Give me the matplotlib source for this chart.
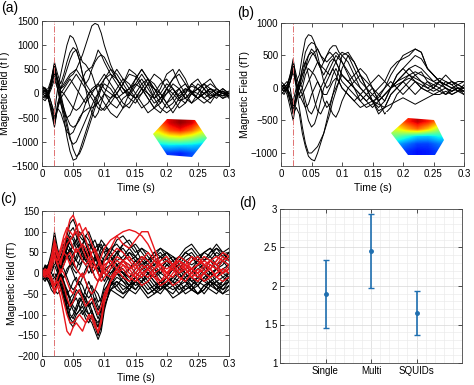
import numpy as np
import matplotlib
matplotlib.use('Agg')
import matplotlib.pyplot as plt
from matplotlib.patches import Polygon
from matplotlib.ticker import MultipleLocator

plt.rcParams['font.family'] = ['Liberation Sans', 'DejaVu Sans']
plt.rcParams['font.size'] = 7

# time base (s), finer around the stimulus/response
t = [0, .005, .01, .015, .02, .025, .03, .035, .04, .045, .05, .055, .06, .065, .07,
     .075, .08, .085, .09, .095, .1, .11, .12, .13, .14, .15, .16, .17, .18, .19, .2,
     .21, .22, .23, .24, .25, .26, .27, .28, .29, .3]
t_stim = 0.02

# (a) single sensor, fT
field_a = [
    [50, 80, 0, 200, 550, 300, 100, 150, 250, 350, 400, 500, 650, 800, 1000, 1200, 1400, 1450, 1420, 1250, 1000,
     600, 300, 100, -50, 150, 300, 100, -100, 0, 200, 100, -50, 50, 150, 100, 0, 50, -50, 0, -50],
    [100, 120, 0, -200, -400, 100, 400, 700, 1000, 1200, 1150, 1000, 800, 650, 600, 500, 550, 700, 900, 800, 650,
     400, 200, 0, 100, 300, 500, 300, 0, -200, 100, 300, 500, 300, 0, 100, 200, 0, -100, 50, -50],
    [0, -50, -100, 300, 650, 400, 200, 400, 650, 850, 950, 900, 700, 400, 200, 100, 0, -100, -200, -300, -350,
     -200, 0, 200, 400, 350, 100, -100, -300, -200, 0, 200, 100, -100, 0, 200, 100, -50, 0, 50, -100],
    [150, 100, -100, -300, -600, -300, 100, 300, 500, 700, 850, 900, 700, 400, 100, -200, -400, -500, -400, -200, 0,
     300, 500, 300, 100, -100, 0, 200, 400, 300, 100, -100, -300, -200, 0, 100, 200, 100, 0, -50, 0],
    [0, 50, 0, 200, 500, 300, 100, 200, 300, 400, 450, 500, 400, 300, 200, 300, 500, 650, 750, 800, 750,
     500, 300, 100, 0, -100, 100, 300, 200, 0, -200, -100, 100, 200, 0, -100, 100, 200, 100, 0, -50],
    [-50, -100, 0, 150, 400, 100, -200, -500, -900, -1200, -1380, -1350, -1200, -1000, -800, -600, -400, -200, 0, 200, 300,
     400, 300, 100, -100, -200, 0, 200, 100, -100, -300, -200, 0, 100, 50, -100, 0, 100, 0, -50, 0],
    [100, 50, -100, -300, -600, -200, 0, -300, -600, -900, -1150, -1300, -1250, -1100, -900, -700, -500, -300, -100, 100, 300,
     500, 400, 200, 0, -100, -300, -200, 0, 200, 300, 100, -100, 0, 200, 100, -100, -200, 0, 100, 0],
    [0, 80, 100, 300, 600, 200, -100, -400, -700, -950, -1050, -1000, -850, -700, -550, -400, -250, -100, 0, 100, 200,
     100, -100, -300, -200, 0, 200, 300, 100, -100, 0, 100, -100, -200, 0, 100, 0, -100, 0, 50, 0],
    [-100, -50, 0, -200, -500, -300, -400, -600, -800, -850, -800, -650, -500, -400, -350, -300, -300, -250, -200, -100, 0,
     -200, -300, -100, 0, 200, 400, 200, -100, -300, -400, -300, -100, 100, 0, -100, 0, 100, 50, 0, 0],
    [50, 0, -100, -400, -700, -300, -100, -300, -500, -650, -700, -650, -550, -400, -200, 0, 100, 150, 200, 300, 400,
     200, 0, -200, -300, -100, 100, 0, -200, -100, 100, 0, -150, -100, 50, 0, -100, 0, 100, 0, -50],
    [100, 100, 0, 250, 600, 200, 0, 100, 200, 300, 200, 100, 0, -100, -200, -100, 0, 100, 200, 100, 0,
     -100, 0, 200, 500, 400, 200, 0, -100, 100, 400, 500, 200, 0, -200, -100, 0, 100, 0, -100, -50],
    [-100, -150, -50, 100, 300, 100, -200, -400, -500, -450, -300, -100, 100, 300, 450, 500, 400, 200, 0, -100, -200,
     -400, -500, -300, 0, 300, 500, 300, 100, 0, -200, -400, -200, 0, 200, 300, 100, -100, 0, -100, 0],
    [0, -50, -100, -300, -650, -300, -100, 0, 100, 200, 300, 400, 300, 200, 100, 0, -100, -200, -300, -350, -300,
     -100, 100, 300, 200, 0, -200, -400, -300, -100, 100, 300, 400, 200, 0, -100, -200, -100, 0, 100, 0],
    [150, 100, 50, 200, 450, 250, 50, 0, -100, -200, -300, -350, -300, -200, -100, 0, 50, 100, 150, 200, 100,
     0, -100, 0, 100, 200, 100, -100, -300, -400, -200, 0, 100, -100, -200, 0, 200, 300, 100, 0, 50],
]

# (b) multi sensor, fT
field_b = [
    [0, 50, -50, 100, 300, 100, 200, 500, 750, 820, 800, 700, 500, 300, 100, 0, 50, 200, 300, 200, 100,
     0, -100, -200, -100, 0, -100, -200, 0, 100, 200, 300, 350, 300, 200, 100, 50, 0, -50, 0, -50],
    [-50, 0, 50, 200, 400, 200, 0, 300, 550, 650, 700, 680, 600, 500, 450, 400, 450, 500, 550, 500, 400,
     250, 100, 0, -100, -200, -150, 0, 200, 350, 500, 550, 600, 550, 300, 200, 100, 50, 100, 50, 0],
    [50, 0, -100, -300, -500, -200, 0, 100, 300, 500, 600, 550, 400, 300, 400, 500, 600, 650, 650, 550, 500,
     400, 200, 0, -100, -200, -300, -200, 0, 200, 300, 400, 500, 450, 300, 200, 100, 50, 0, 0, -50],
    [0, -50, 0, 100, 300, 0, -300, -600, -850, -1000, -1000, -950, -900, -800, -700, -500, -300, -100, 0, 100, 200,
     100, 0, -200, -300, -250, -100, 0, 100, 0, -100, 0, 100, 50, 0, -50, 0, -100, -50, 0, -100],
    [100, 50, 0, -200, -400, -300, -400, -700, -900, -1050, -1100, -1120, -1000, -850, -700, -550, -400, -200, -50, 100, 300,
     500, 400, 200, 0, -200, -350, -300, -100, 0, 100, 0, -100, 0, 100, 50, 0, 100, 50, -50, 0],
    [-100, -50, 0, 200, 450, 100, -100, -200, -300, -250, -100, 0, 100, 0, -200, -300, -250, -100, 100, 300, 500,
     550, 400, 200, 0, -200, -400, -300, -100, 0, 100, 200, 150, 100, 0, 50, 100, 50, 0, -50, 50],
    [0, 50, 100, 0, -300, -200, 100, 300, 400, 200, 0, -200, -350, -400, -300, -200, -300, -400, -450, -350, -200,
     0, 100, 200, 100, 0, -200, -100, 0, 200, 300, 200, 100, 0, -50, 0, 100, 0, -50, 0, 0],
    [50, 0, -50, -200, -400, -100, 100, 200, 300, 400, 500, 550, 600, 500, 400, 500, 550, 500, 400, 300, 200,
     100, 200, 300, 200, 0, -200, -400, -300, -100, 0, 100, 200, 250, 100, 0, 100, 200, 100, 0, -50],
    [-50, 0, 50, 150, 350, 100, -100, 0, 200, 300, 250, 200, 100, 0, -100, -100, 0, 100, 150, 100, 0,
     -100, -200, -100, 0, 100, 200, 100, 0, 100, 200, 300, 200, 100, 50, 0, -50, -100, 0, 50, 0],
    [0, -50, 0, -100, -300, -100, 0, 200, 400, 500, 550, 500, 400, 300, 200, 300, 400, 450, 400, 300, 200,
     100, 0, -100, -200, -100, 0, 100, 300, 400, 450, 500, 600, 550, 300, 200, 100, 50, 100, 50, 100],
    [0, 50, 0, -150, -350, -100, 0, -100, -300, -500, -600, -550, -400, -200, 0, 100, 200, 300, 200, 100, 0,
     -100, -200, -300, -250, -200, -250, -300, -250, -200, -150, -200, -250, -200, -150, -100, -100, -50, -100, -50, -100],
    [50, 0, -50, 100, 250, 50, -150, -100, 0, 100, 200, 300, 400, 350, 300, 250, 200, 300, 400, 500, 550,
     500, 300, 100, 0, -100, -200, -100, 0, 100, 150, 200, 250, 200, 150, 100, 150, 100, 50, 100, 100],
    [-50, -100, 0, -100, -200, 0, 100, 0, -200, -350, -400, -300, -150, 0, 100, 200, 300, 400, 500, 450, 400,
     200, 0, -100, -200, -300, -200, -100, 0, 50, 100, 150, 100, 0, -50, -100, -50, 0, -100, -50, -50],
]

# (c) SQUID channels (black) and highlighted channels (red), fT
field_c_black = [
    [0, 10, 5, 30, 90, 40, 20, 50, 80, 100, 110, 90, 70, 50, 60, 70, 60, 40, 20, 0, -20,
     10, 40, 70, 80, 60, 30, 10, 20, 40, 30, 10, 20, 40, 50, 30, 10, 30, 50, 40, 30],
    [-10, 0, -20, -40, -50, -20, 0, -30, -80, -110, -120, -100, -90, -80, -100, -110, -120, -140, -160, -140, -90,
     -30, 0, -10, -30, -20, 0, -20, -40, -30, -10, -20, -40, -30, -10, -30, -50, -30, -20, -40, -20],
    [5, 15, 10, 30, 60, 30, 10, 40, 60, 80, 90, 100, 80, 60, 50, 40, 50, 60, 70, 60, 50,
     60, 70, 50, 30, 40, 60, 50, 30, 40, 50, 40, 30, 50, 60, 40, 50, 60, 40, 50, 60],
    [0, -15, -10, 10, 40, 10, -20, -50, -80, -90, -70, -60, -80, -100, -90, -70, -90, -120, -130, -100, -50,
     -10, 20, 10, -10, -30, -20, 0, -20, -40, -30, -10, 0, -20, -30, -10, 0, -10, -30, -20, 0],
    [10, 0, 20, 40, 70, 50, 30, 60, 90, 120, 130, 110, 90, 80, 90, 100, 80, 60, 40, 30, 20,
     30, 50, 60, 40, 20, 0, 10, 30, 20, 0, 10, 30, 20, 0, 20, 40, 30, 10, 20, 40],
    [-5, 5, 0, -20, -40, -30, -10, -40, -70, -80, -60, -40, -50, -60, -40, -20, -40, -70, -90, -70, -40,
     -20, -40, -50, -30, -10, -30, -50, -40, -20, -40, -50, -30, -10, -30, -50, -40, -20, -30, -40, -30],
    [0, 20, 10, 0, 20, 30, 50, 70, 60, 50, 70, 80, 60, 40, 30, 50, 70, 80, 60, 40, 30,
     50, 80, 90, 70, 50, 60, 40, 20, 30, 50, 30, 10, 30, 40, 20, 30, 50, 60, 40, 50],
    [-10, -20, -5, 20, 50, 20, -10, -30, -50, -40, -20, -10, -30, -50, -60, -40, -30, -50, -70, -60, -30,
     0, 20, 0, -20, -40, -20, 0, 10, -10, -30, -20, 0, 10, -10, -20, 0, 20, 10, -10, 0],
    [0, 10, 0, 20, 50, 30, 10, 20, 40, 60, 50, 30, 20, 30, 50, 60, 40, 20, 0, 20, 40,
     60, 50, 30, 10, 20, 40, 30, 10, 0, 20, 30, 10, -10, 0, 20, 10, -10, 10, 30, 20],
    [5, -5, -10, -30, -40, -20, 0, -20, -60, -100, -110, -90, -70, -60, -80, -100, -90, -110, -130, -110, -70,
     -20, 10, 0, -20, -10, 10, 0, -20, -30, -10, 10, 0, -20, -10, 10, 0, -20, -10, 10, 0],
    [0, 15, 20, 40, 80, 50, 20, 40, 70, 90, 80, 60, 40, 30, 40, 50, 40, 20, 10, 20, 30,
     40, 20, 0, 10, 30, 20, 0, -10, 10, 30, 40, 20, 0, 10, 30, 20, 10, 30, 50, 30],
    [-15, -10, 0, 10, 20, 0, -20, -10, 10, 20, 0, -20, -30, -10, 10, 20, 10, -10, -20, -10, 10,
     20, 0, -20, -30, -10, 10, 20, 0, -20, -30, -10, 10, 0, -20, -30, -10, 0, -20, -30, -10],
    [10, 0, -10, -20, -30, -10, 10, 30, 50, 40, 20, 10, 30, 50, 40, 20, 0, 10, 30, 50, 60,
     40, 20, 0, -10, 10, 30, 20, 0, -20, -10, 10, 20, 0, -20, -10, 10, 30, 20, 0, 10],
    [0, -10, 0, 20, 40, 10, -30, -60, -90, -120, -130, -110, -100, -90, -110, -120, -100, -120, -150, -130, -80,
     -40, -20, -30, -40, -20, -10, -30, -50, -40, -20, -30, -50, -40, -30, -50, -40, -20, -30, -50, -40],
    [5, 10, 15, 30, 60, 40, 30, 60, 80, 70, 60, 80, 100, 90, 70, 50, 30, 20, 10, 0, 0,
     20, 50, 70, 60, 40, 20, 30, 50, 40, 20, 10, 30, 50, 40, 20, 30, 50, 70, 50, 30],
    [-5, 0, -10, -20, -20, 0, 20, 10, -10, -30, -40, -30, -10, 0, -20, -40, -60, -80, -100, -90, -60,
     -30, -10, -20, -40, -50, -30, -20, -40, -50, -30, -20, -30, -50, -40, -20, -30, -40, -50, -30, -20],
    [0, 5, 10, 20, 40, 20, 0, -10, 0, 20, 40, 60, 70, 50, 30, 20, 30, 40, 30, 10, 0,
     -20, -30, -10, 10, 30, 40, 20, 0, 10, 30, 20, 0, 10, 30, 40, 20, 0, 10, 30, 10],
    [10, 0, -5, -10, 0, -10, -30, -50, -70, -80, -70, -50, -40, -50, -70, -80, -70, -90, -110, -90, -60,
     -40, -50, -60, -40, -20, -40, -60, -50, -30, -40, -60, -50, -30, -40, -50, -30, -20, -40, -50, -30],
    [0, 10, 20, 50, 100, 60, 30, 50, 70, 60, 40, 30, 50, 70, 80, 60, 40, 30, 40, 60, 70,
     50, 30, 40, 60, 70, 50, 30, 40, 60, 50, 30, 40, 60, 70, 50, 30, 40, 60, 50, 40],
    [-5, -10, -20, -30, -40, -50, -40, -60, -90, -110, -100, -80, -60, -70, -90, -100, -110, -130, -150, -120, -80,
     -40, -30, -50, -40, -20, -30, -50, -40, -20, -30, -40, -30, -20, -40, -50, -30, -20, -40, -30, -20],
    [10, 5, 0, 10, 30, 20, 40, 60, 50, 30, 20, 40, 60, 70, 50, 30, 20, 40, 60, 70, 50,
     20, 10, 30, 50, 40, 20, 30, 50, 60, 40, 20, 30, 50, 40, 30, 50, 60, 40, 30, 50],
    [0, -5, 5, 0, -10, -20, -40, -30, -40, -60, -80, -90, -70, -50, -60, -80, -70, -60, -80, -90, -60,
     -30, -20, -40, -30, -10, -20, -40, -30, -20, -40, -30, -10, -20, -40, -30, -10, -30, -40, -20, -10],
    [-10, 0, 10, 20, 40, 30, 20, 30, 40, 30, 10, 0, 10, 30, 20, 0, 10, 30, 40, 30, 10,
     0, 10, 30, 20, 0, -10, 10, 20, 0, -10, 10, 30, 20, 0, 10, 20, 0, -10, 10, 20],
    [5, 0, -10, -20, -10, 0, -10, -30, -50, -60, -50, -30, -20, -30, -50, -60, -50, -40, -50, -70, -50,
     -20, 0, -10, -30, -40, -20, -10, -30, -40, -20, -10, -20, -40, -30, -10, -20, -30, -20, -10, -20],
    [0, 10, 5, 20, 60, 40, 20, 30, 60, 80, 90, 70, 60, 70, 90, 80, 60, 50, 60, 80, 70,
     40, 20, 30, 50, 30, 10, 20, 40, 50, 30, 20, 40, 30, 20, 30, 50, 40, 20, 30, 50],
    [-5, -10, 0, -10, -30, -10, 0, -20, -40, -70, -90, -100, -90, -70, -60, -80, -100, -110, -120, -100, -60,
     -10, 10, 0, -10, 0, 20, 10, -10, 0, 20, 10, -10, 0, 10, -10, -20, 0, 10, 0, -10],
]

field_c_red = [
    [0, 10, 0, 30, 70, 40, 20, 60, 100, 130, 140, 120, 90, 100, 110, 90, 70, 50, 30, 10, 0,
     20, 40, 30, 10, 20, 40, 30, 10, 20, 30, 20, 0, 20, 40, 30, 20, 30, 40, 30, 40],
    [0, -10, -5, -20, -40, -30, -60, -100, -140, -150, -130, -120, -130, -140, -120, -100, -110, -130, -140, -110, -60,
     -20, 0, 10, -10, -20, 0, 10, -10, -20, 0, 10, -10, -20, 0, 10, 0, -10, 0, 10, 0],
    [10, 0, 10, 40, 80, 50, 30, 50, 70, 80, 90, 100, 80, 60, 40, 30, 10, -10, -20, 0, 30,
     60, 90, 100, 105, 100, 90, 70, 40, 20, 10, 20, 30, 20, 10, 0, 10, 30, 20, 0, 20],
    [-5, 0, 10, -10, -30, -20, -40, -70, -100, -120, -120, -110, -100, -110, -120, -110, -100, -120, -145, -120, -70,
     -20, 10, 30, 20, 0, -10, 10, 30, 20, 0, -10, 10, 20, 0, -10, 0, 20, 10, 0, 10],
    [0, 5, -10, 10, 40, 30, 50, 80, 90, 80, 60, 50, 60, 70, 60, 40, 20, 10, 20, 40, 60,
     80, 90, 70, 60, 80, 100, 100, 60, 20, 0, 10, 30, 20, 10, 20, 30, 20, 10, 30, 20],
    [0, -5, 0, 20, 50, 20, 0, 20, 40, 50, 30, 10, 0, -10, 0, 20, 30, 20, 0, -20, -10,
     10, 30, 20, 0, -10, 10, 20, 0, -20, -10, 20, 30, 10, -10, 0, 20, 10, -10, 0, 10],
    [5, 0, -5, -20, -50, -30, -10, -30, -60, -80, -70, -50, -40, -60, -80, -70, -60, -80, -100, -80, -50,
     -20, 0, 20, 10, -10, -30, -20, 0, 10, -10, -30, -20, 0, 10, 0, -20, -10, 0, 10, 0],
    [-10, 0, 10, 30, 60, 40, 60, 90, 110, 100, 90, 110, 120, 100, 80, 60, 40, 20, 0, -10, 10,
     40, 60, 50, 30, 10, 30, 50, 30, 10, 0, 20, 40, 30, 10, 20, 40, 30, 20, 40, 30],
    [0, 10, 5, -10, -30, -10, 10, 0, -20, -40, -50, -30, -10, 0, -20, -40, -50, -40, -20, 0, 20,
     30, 10, -10, -20, 0, 20, 10, -10, -30, -20, 0, 20, 10, -10, -20, 0, 10, -10, -20, -10],
    [0, -5, 5, 20, 40, 20, 30, 50, 40, 20, 40, 60, 50, 30, 20, 30, 50, 60, 40, 20, 0,
     -10, 10, 30, 40, 20, 0, -10, 10, 30, 40, 20, 0, 10, 30, 40, 20, 10, 30, 50, 40],
]

# topographic maps (normalised field, top row first)
topo_a = [[0.80, 0.92, 0.98, 0.93, 0.80],
          [0.68, 0.83, 0.88, 0.80, 0.66],
          [0.52, 0.58, 0.60, 0.55, 0.47],
          [0.32, 0.34, 0.33, 0.33, 0.30],
          [0.18, 0.18, 0.16, 0.20, 0.24]]
topo_b = [[0.75, 0.86, 0.94, 0.88, 0.75],
          [0.62, 0.72, 0.80, 0.70, 0.55],
          [0.47, 0.40, 0.33, 0.32, 0.37],
          [0.30, 0.24, 0.19, 0.19, 0.24],
          [0.22, 0.17, 0.14, 0.15, 0.19]]

# (d) summary
groups = ['Single', 'Multi', 'SQUIDs']
mean_d = [1.90, 2.45, 1.65]
low_d = [1.46, 1.97, 1.37]
high_d = [2.34, 2.93, 1.94]

#-------------------------------------------------------------------------------

W, H = 474, 385
fig = plt.figure(figsize=(W / 100, H / 100), dpi=100)


def box(l, top, r, b):
    return [l / W, 1 - b / H, (r - l) / W, (b - top) / H]


def style(ax):
    ax.tick_params(direction='in', top=True, right=True, length=3, width=0.6,
                   colors='#333333', labelcolor='black', pad=2)
    for s in ax.spines.values():
        s.set_color('#444444')
        s.set_linewidth(0.6)


def trace_panel(pos, traces, ylim, yticks, ylabel, ylab_x, lw=0.7):
    ax = fig.add_axes(box(*pos))
    for y in traces:
        ax.plot(t, y, color='black', lw=lw)
    ax.axvline(t_stim, color='#e07070', ls='-.', lw=0.7)
    ax.set_xlim(0, 0.3)
    ax.set_ylim(*ylim)
    ax.set_xticks([0, 0.05, 0.1, 0.15, 0.2, 0.25, 0.3])
    ax.set_xticklabels(['0', '0.05', '0.1', '0.15', '0.2', '0.25', '0.3'])
    ax.set_yticks(yticks)
    ax.set_xlabel('Time (s)', fontsize=7.5, labelpad=3)
    ax.set_ylabel(ylabel, fontsize=7.5)
    ax.yaxis.set_label_coords(ylab_x, 0.5)
    style(ax)
    return ax


def topo(verts, vals, frame):
    l, top, r, b = frame
    ax = fig.add_axes(box(l, top, r, b))
    xs = [v[0] for v in verts]
    ys = [v[1] for v in verts]
    im = ax.imshow(vals, cmap='jet', vmin=0, vmax=1, interpolation='bilinear',
                   extent=(min(xs), max(xs), max(ys), min(ys)), aspect='auto')
    poly = Polygon(verts, closed=True, facecolor='none', edgecolor='none')
    ax.add_patch(poly)
    im.set_clip_path(poly)
    ax.set_xlim(l, r)
    ax.set_ylim(b, top)
    ax.set_xticks([])
    ax.set_yticks([])
    for s in ax.spines.values():
        s.set_visible(False)


# (a)
trace_panel((42, 21, 229, 166), field_a, (-1500, 1500),
            [-1500, -1000, -500, 0, 500, 1000, 1500], 'Magnetic field (fT)', -0.17)
topo([(167, 119), (195, 120), (207, 138), (192, 157), (167, 155), (153, 134)], topo_a,
     (150, 114, 212, 161))

# (b)
trace_panel((281, 23, 464, 166), field_b, (-1200, 1000),
            [-1000, -500, 0, 500, 1000], 'Magnetic Field (fT)', -0.17)
topo([(408, 118), (434, 120), (444, 140), (435, 155), (408, 155), (391, 133)], topo_b,
     (386, 112, 448, 160))

# (c)
ax_c = trace_panel((42, 211, 229, 356), field_c_black, (-200, 150),
                   [-200, -150, -100, -50, 0, 50, 100, 150], 'Magnetic field (fT)', -0.135,
                   lw=0.8)
for y in field_c_red:
    ax_c.plot(t, y, color='#e8161b', lw=1.0)

# (d)
ax_d = fig.add_axes(box(280, 209, 462, 363))
x_d = np.arange(1, len(groups) + 1)
m = np.array(mean_d)
ax_d.errorbar(x_d, m, yerr=[m - np.array(low_d), np.array(high_d) - m], fmt='o',
              ms=2.5, color='#1f6fb0', ecolor='#1f6fb0', elinewidth=1.2, capsize=2.5,
              capthick=1.0)
ax_d.set_xlim(0, 4)
ax_d.set_ylim(1, 3)
ax_d.set_xticks(x_d)
ax_d.set_xticklabels(groups)
ax_d.set_yticks([1, 1.5, 2, 2.5, 3])
ax_d.set_yticklabels(['1', '1.5', '2', '2.5', '3'])
ax_d.xaxis.set_minor_locator(MultipleLocator(0.2))
ax_d.yaxis.set_minor_locator(MultipleLocator(0.1))
ax_d.grid(which='major', color='#d8d8d8', lw=0.5)
ax_d.grid(which='minor', color='#ebebeb', lw=0.5)
ax_d.set_axisbelow(True)
style(ax_d)
ax_d.tick_params(which='minor', length=0)

# panel letters
for lab, x, y in [('(a)', 1, 8), ('(b)', 237, 13), ('(c)', 0, 199), ('(d)', 239, 203)]:
    fig.text(x / W, 1 - y / H, lab, fontsize=10, ha='left', va='center')

fig.savefig('out.png', dpi=100)
